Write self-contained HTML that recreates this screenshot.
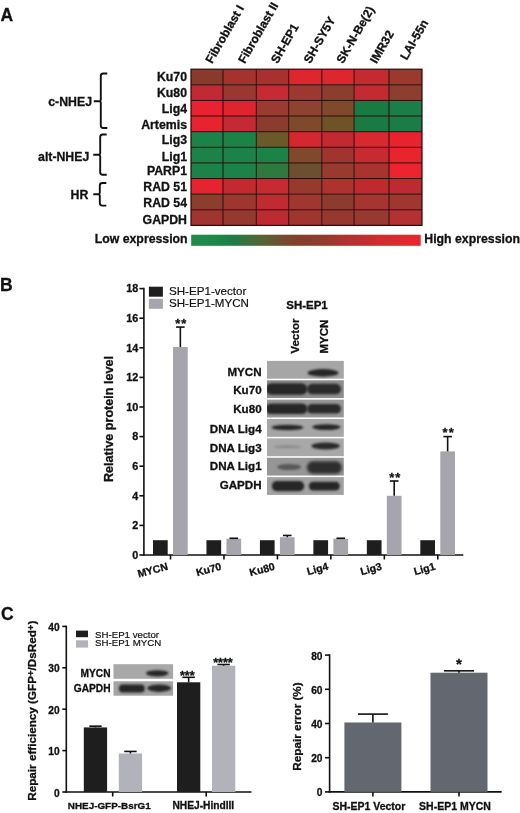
<!DOCTYPE html>
<html><head><meta charset="utf-8"><title>Figure</title>
<style>
html,body{margin:0;padding:0;background:#fff;width:520px;height:813px;overflow:hidden}
svg{display:block}
text{font-family:"Liberation Sans", Arial, sans-serif;fill:#111;stroke:#111;stroke-width:0.3px}
.pl{font-size:17.5px;font-weight:bold}
.b12{font-size:12.3px;font-weight:bold}
.b12c{font-size:12px;font-weight:bold}
.b125{font-size:12.5px;font-weight:bold}
.b11{font-size:11px;font-weight:bold}
.b115{font-size:11.5px;font-weight:bold}
.b117{font-size:11.7px;font-weight:bold}
.b126{font-size:12.6px;font-weight:bold}
.b118{font-size:11.6px;font-weight:bold}
.b10{font-size:10.2px;font-weight:bold}
.b105{font-size:10.5px;font-weight:bold}
.b108{font-size:10.8px;font-weight:bold}
.b95{font-size:9.6px;font-weight:bold}
.r115{font-size:11.6px;stroke-width:0.2px}
.r97{font-size:9.7px;stroke-width:0.2px}
.st{font-size:13px;font-weight:bold;letter-spacing:1px}
.stc{font-size:12.5px;font-weight:bold}
.st2{font-size:15px;font-weight:bold}
.gl{stroke:#2a0a0a;stroke-width:1}
.br{fill:none;stroke:#111;stroke-width:1.9}
.ax{stroke:#111;stroke-width:1.6}
.eb{stroke:#111;stroke-width:1.6}
</style></head><body>
<svg width="520" height="813" viewBox="0 0 520 813">
<defs><clipPath id="cpB"><rect x="267" y="360" width="76.8" height="136"/></clipPath><filter id="bl" x="-30%" y="-100%" width="160%" height="300%"><feGaussianBlur stdDeviation="0.9"/></filter><filter id="bl2" x="-30%" y="-100%" width="160%" height="300%"><feGaussianBlur stdDeviation="1.8"/></filter></defs>
<text x="0.5" y="20.8" class="pl">A</text>
<rect x="191" y="69.20" width="32.00" height="15.62" fill="#8a3a2c"/>
<rect x="223" y="69.20" width="33.30" height="15.62" fill="#a5322f"/>
<rect x="256.3" y="69.20" width="32.40" height="15.62" fill="#a8312f"/>
<rect x="288.7" y="69.20" width="33.10" height="15.62" fill="#de262f"/>
<rect x="321.8" y="69.20" width="32.30" height="15.62" fill="#de262f"/>
<rect x="354.1" y="69.20" width="34.90" height="15.62" fill="#c42a30"/>
<rect x="389" y="69.20" width="33.00" height="15.62" fill="#9a3a2e"/>
<rect x="191" y="84.82" width="32.00" height="15.62" fill="#c02a32"/>
<rect x="223" y="84.82" width="33.30" height="15.62" fill="#9a3830"/>
<rect x="256.3" y="84.82" width="32.40" height="15.62" fill="#c82a33"/>
<rect x="288.7" y="84.82" width="33.10" height="15.62" fill="#9c3830"/>
<rect x="321.8" y="84.82" width="32.30" height="15.62" fill="#8c3e2e"/>
<rect x="354.1" y="84.82" width="34.90" height="15.62" fill="#c42a32"/>
<rect x="389" y="84.82" width="33.00" height="15.62" fill="#8e3e2e"/>
<rect x="191" y="100.44" width="32.00" height="15.62" fill="#e8222f"/>
<rect x="223" y="100.44" width="33.30" height="15.62" fill="#e0242f"/>
<rect x="256.3" y="100.44" width="32.40" height="15.62" fill="#9a3a30"/>
<rect x="288.7" y="100.44" width="33.10" height="15.62" fill="#8e4230"/>
<rect x="321.8" y="100.44" width="32.30" height="15.62" fill="#7f4a2c"/>
<rect x="354.1" y="100.44" width="34.90" height="15.62" fill="#1a7a44"/>
<rect x="389" y="100.44" width="33.00" height="15.62" fill="#1a7e46"/>
<rect x="191" y="116.06" width="32.00" height="15.62" fill="#e6232f"/>
<rect x="223" y="116.06" width="33.30" height="15.62" fill="#c42a33"/>
<rect x="256.3" y="116.06" width="32.40" height="15.62" fill="#8c3c2e"/>
<rect x="288.7" y="116.06" width="33.10" height="15.62" fill="#7f4a2c"/>
<rect x="321.8" y="116.06" width="32.30" height="15.62" fill="#6e5228"/>
<rect x="354.1" y="116.06" width="34.90" height="15.62" fill="#1a7a44"/>
<rect x="389" y="116.06" width="33.00" height="15.62" fill="#1a7c46"/>
<rect x="191" y="131.68" width="32.00" height="15.62" fill="#1b8248"/>
<rect x="223" y="131.68" width="33.30" height="15.62" fill="#1b8248"/>
<rect x="256.3" y="131.68" width="32.40" height="15.62" fill="#6a5a2a"/>
<rect x="288.7" y="131.68" width="33.10" height="15.62" fill="#d42830"/>
<rect x="321.8" y="131.68" width="32.30" height="15.62" fill="#c02a30"/>
<rect x="354.1" y="131.68" width="34.90" height="15.62" fill="#d82830"/>
<rect x="389" y="131.68" width="33.00" height="15.62" fill="#e8222f"/>
<rect x="191" y="147.30" width="32.00" height="15.62" fill="#1b8248"/>
<rect x="223" y="147.30" width="33.30" height="15.62" fill="#1b8248"/>
<rect x="256.3" y="147.30" width="32.40" height="15.62" fill="#1b8248"/>
<rect x="288.7" y="147.30" width="33.10" height="15.62" fill="#7f4a2c"/>
<rect x="321.8" y="147.30" width="32.30" height="15.62" fill="#a03530"/>
<rect x="354.1" y="147.30" width="34.90" height="15.62" fill="#c82a32"/>
<rect x="389" y="147.30" width="33.00" height="15.62" fill="#e8242f"/>
<rect x="191" y="162.92" width="32.00" height="15.62" fill="#1b8248"/>
<rect x="223" y="162.92" width="33.30" height="15.62" fill="#1b8248"/>
<rect x="256.3" y="162.92" width="32.40" height="15.62" fill="#2f7840"/>
<rect x="288.7" y="162.92" width="33.10" height="15.62" fill="#6a5030"/>
<rect x="321.8" y="162.92" width="32.30" height="15.62" fill="#983a2e"/>
<rect x="354.1" y="162.92" width="34.90" height="15.62" fill="#a8342f"/>
<rect x="389" y="162.92" width="33.00" height="15.62" fill="#ec2430"/>
<rect x="191" y="178.54" width="32.00" height="15.62" fill="#e4242f"/>
<rect x="223" y="178.54" width="33.30" height="15.62" fill="#c22a30"/>
<rect x="256.3" y="178.54" width="32.40" height="15.62" fill="#c62a32"/>
<rect x="288.7" y="178.54" width="33.10" height="15.62" fill="#963a2e"/>
<rect x="321.8" y="178.54" width="32.30" height="15.62" fill="#ae322f"/>
<rect x="354.1" y="178.54" width="34.90" height="15.62" fill="#be2a30"/>
<rect x="389" y="178.54" width="33.00" height="15.62" fill="#be2a32"/>
<rect x="191" y="194.16" width="32.00" height="15.62" fill="#8c3e2e"/>
<rect x="223" y="194.16" width="33.30" height="15.62" fill="#9e3630"/>
<rect x="256.3" y="194.16" width="32.40" height="15.62" fill="#c22a32"/>
<rect x="288.7" y="194.16" width="33.10" height="15.62" fill="#a03630"/>
<rect x="321.8" y="194.16" width="32.30" height="15.62" fill="#8c3c2e"/>
<rect x="354.1" y="194.16" width="34.90" height="15.62" fill="#a63430"/>
<rect x="389" y="194.16" width="33.00" height="15.62" fill="#a03630"/>
<rect x="191" y="209.78" width="32.00" height="15.62" fill="#a23430"/>
<rect x="223" y="209.78" width="33.30" height="15.62" fill="#963830"/>
<rect x="256.3" y="209.78" width="32.40" height="15.62" fill="#be2a32"/>
<rect x="288.7" y="209.78" width="33.10" height="15.62" fill="#a23430"/>
<rect x="321.8" y="209.78" width="32.30" height="15.62" fill="#963830"/>
<rect x="354.1" y="209.78" width="34.90" height="15.62" fill="#983830"/>
<rect x="389" y="209.78" width="33.00" height="15.62" fill="#b43032"/>
<line x1="191" y1="84.82" x2="422" y2="84.82" class="gl"/>
<line x1="191" y1="100.44" x2="422" y2="100.44" class="gl"/>
<line x1="191" y1="116.06" x2="422" y2="116.06" class="gl"/>
<line x1="191" y1="131.68" x2="422" y2="131.68" class="gl"/>
<line x1="191" y1="147.30" x2="422" y2="147.30" class="gl"/>
<line x1="191" y1="162.92" x2="422" y2="162.92" class="gl"/>
<line x1="191" y1="178.54" x2="422" y2="178.54" class="gl"/>
<line x1="191" y1="194.16" x2="422" y2="194.16" class="gl"/>
<line x1="191" y1="209.78" x2="422" y2="209.78" class="gl"/>
<line x1="223" y1="69.2" x2="223" y2="225.4" class="gl"/>
<line x1="256.3" y1="69.2" x2="256.3" y2="225.4" class="gl"/>
<line x1="288.7" y1="69.2" x2="288.7" y2="225.4" class="gl"/>
<line x1="321.8" y1="69.2" x2="321.8" y2="225.4" class="gl"/>
<line x1="354.1" y1="69.2" x2="354.1" y2="225.4" class="gl"/>
<line x1="389" y1="69.2" x2="389" y2="225.4" class="gl"/>
<rect x="191" y="69.2" width="231" height="156.2" fill="none" stroke="#2a0808" stroke-width="1.2"/>
<text x="187" y="81.3" class="b12" text-anchor="end">Ku70</text>
<text x="187" y="96.5" class="b12" text-anchor="end">Ku80</text>
<text x="187" y="112.9" class="b12" text-anchor="end">Lig4</text>
<text x="187" y="128.7" class="b12" text-anchor="end">Artemis</text>
<text x="187" y="143.8" class="b12" text-anchor="end">Lig3</text>
<text x="187" y="160.6" class="b12" text-anchor="end">Lig1</text>
<text x="187" y="175.4" class="b12" text-anchor="end">PARP1</text>
<text x="187" y="191" class="b12" text-anchor="end">RAD 51</text>
<text x="187" y="207" class="b12" text-anchor="end">RAD 54</text>
<text x="187" y="223.8" class="b12" text-anchor="end">GAPDH</text>
<text transform="translate(212.0,64.2) rotate(-60)" class="b12c">Fibroblast I</text>
<text transform="translate(244.7,64.2) rotate(-60)" class="b12c">Fibroblast II</text>
<text transform="translate(277.5,64.2) rotate(-60)" class="b12c">SH-EP1</text>
<text transform="translate(310.2,64.2) rotate(-60)" class="b12c">SH-SY5Y</text>
<text transform="translate(343.0,64.2) rotate(-60)" class="b12c">SK-N-Be(2)</text>
<text transform="translate(376.6,64.2) rotate(-60)" class="b12c">IMR32</text>
<text transform="translate(406.7,60.8) rotate(-60)" class="b12c">LAI-55n</text>
<path d="M107.3,73.5 H103.3 Q100.8,73.5 100.8,76.0 V99.7 Q100.8,101.2 99.3,101.2 H93.8 M99.3,101.2 Q100.8,101.2 100.8,102.7 V125.5 Q100.8,128 103.3,128 H107.3" class="br"/>
<path d="M106.7,134.5 H102.7 Q100.2,134.5 100.2,137.0 V153.3 Q100.2,154.8 98.7,154.8 H93.2 M98.7,154.8 Q100.2,154.8 100.2,156.3 V172.3 Q100.2,174.8 102.7,174.8 H106.7" class="br"/>
<path d="M106.3,183 H102.3 Q99.8,183 99.8,185.5 V192.7 Q99.8,194.2 98.3,194.2 H93.3 M98.3,194.2 Q99.8,194.2 99.8,195.7 V203.1 Q99.8,205.6 102.3,205.6 H106.3" class="br"/>
<text x="92" y="106.2" class="b12" text-anchor="end">c-NHEJ</text>
<text x="89.3" y="160.8" class="b12" text-anchor="end">alt-NHEJ</text>
<text x="88.3" y="198.8" class="b12" text-anchor="end">HR</text>
<defs><linearGradient id="cb" x1="0" x2="1" y1="0" y2="0"><stop offset="0.036" stop-color="#1f8a4a"/><stop offset="0.107" stop-color="#1e8848"/><stop offset="0.179" stop-color="#1c7e46"/><stop offset="0.250" stop-color="#3e6e3c"/><stop offset="0.321" stop-color="#5a6234"/><stop offset="0.393" stop-color="#704e2e"/><stop offset="0.464" stop-color="#843f2c"/><stop offset="0.536" stop-color="#8a3e2e"/><stop offset="0.607" stop-color="#983a2e"/><stop offset="0.679" stop-color="#b03230"/><stop offset="0.750" stop-color="#c42c30"/><stop offset="0.821" stop-color="#d42a30"/><stop offset="0.893" stop-color="#e0282f"/><stop offset="0.964" stop-color="#e8242f"/></linearGradient></defs>
<rect x="191.2" y="234.7" width="229.5" height="11.1" fill="url(#cb)"/>
<text x="94.7" y="243" class="b12">Low expression</text>
<text x="424.3" y="243" class="b12">High expression</text>
<text x="0" y="290.8" class="pl">B</text>
<line x1="143.9" y1="287.84999999999997" x2="143.9" y2="555.75" class="ax"/>
<line x1="143.15" y1="555.0" x2="463.3" y2="555.0" class="ax"/>
<line x1="139.4" y1="555.00" x2="143.9" y2="555.00" class="ax"/>
<text x="138.2" y="558.80" class="b108" text-anchor="end">0</text>
<line x1="139.4" y1="525.40" x2="143.9" y2="525.40" class="ax"/>
<text x="138.2" y="529.20" class="b108" text-anchor="end">2</text>
<line x1="139.4" y1="495.80" x2="143.9" y2="495.80" class="ax"/>
<text x="138.2" y="499.60" class="b108" text-anchor="end">4</text>
<line x1="139.4" y1="466.20" x2="143.9" y2="466.20" class="ax"/>
<text x="138.2" y="470.00" class="b108" text-anchor="end">6</text>
<line x1="139.4" y1="436.60" x2="143.9" y2="436.60" class="ax"/>
<text x="138.2" y="440.40" class="b108" text-anchor="end">8</text>
<line x1="139.4" y1="407.00" x2="143.9" y2="407.00" class="ax"/>
<text x="138.2" y="410.80" class="b108" text-anchor="end">10</text>
<line x1="139.4" y1="377.40" x2="143.9" y2="377.40" class="ax"/>
<text x="138.2" y="381.20" class="b108" text-anchor="end">12</text>
<line x1="139.4" y1="347.80" x2="143.9" y2="347.80" class="ax"/>
<text x="138.2" y="351.60" class="b108" text-anchor="end">14</text>
<line x1="139.4" y1="318.20" x2="143.9" y2="318.20" class="ax"/>
<text x="138.2" y="322.00" class="b108" text-anchor="end">16</text>
<line x1="139.4" y1="288.60" x2="143.9" y2="288.60" class="ax"/>
<text x="138.2" y="292.40" class="b108" text-anchor="end">18</text>
<text transform="translate(112.8,419) rotate(-90)" class="b126" text-anchor="middle">Relative protein level</text>
<rect x="153.00" y="540.20" width="14.7" height="14.80" fill="#1e1e1e"/>
<rect x="173.00" y="347.06" width="14.7" height="207.94" fill="#a6a5ae"/>
<line x1="180.35" y1="347.06" x2="180.35" y2="327.08" class="eb"/>
<line x1="176.05" y1="327.08" x2="184.65" y2="327.08" class="eb"/>
<line x1="170.50" y1="555.0" x2="170.50" y2="559.5" class="ax"/>
<text transform="translate(168.50,569.6) rotate(-15)" class="b105" text-anchor="end">MYCN</text>
<text x="181.35" y="327.58" class="st" text-anchor="middle">**</text>
<rect x="206.46" y="540.20" width="14.7" height="14.80" fill="#1e1e1e"/>
<rect x="226.46" y="538.72" width="14.7" height="16.28" fill="#a6a5ae"/>
<line x1="233.81" y1="538.72" x2="233.81" y2="538.28" class="eb"/>
<line x1="229.51" y1="538.28" x2="238.11" y2="538.28" class="eb"/>
<line x1="223.96" y1="555.0" x2="223.96" y2="559.5" class="ax"/>
<text transform="translate(221.96,569.6) rotate(-15)" class="b105" text-anchor="end">Ku70</text>
<rect x="259.92" y="540.20" width="14.7" height="14.80" fill="#1e1e1e"/>
<rect x="279.92" y="537.24" width="14.7" height="17.76" fill="#a6a5ae"/>
<line x1="287.27" y1="537.24" x2="287.27" y2="535.46" class="eb"/>
<line x1="282.97" y1="535.46" x2="291.57" y2="535.46" class="eb"/>
<line x1="277.42" y1="555.0" x2="277.42" y2="559.5" class="ax"/>
<text transform="translate(275.42,569.6) rotate(-15)" class="b105" text-anchor="end">Ku80</text>
<rect x="313.38" y="540.20" width="14.7" height="14.80" fill="#1e1e1e"/>
<rect x="333.38" y="538.72" width="14.7" height="16.28" fill="#a6a5ae"/>
<line x1="340.73" y1="538.72" x2="340.73" y2="538.28" class="eb"/>
<line x1="336.43" y1="538.28" x2="345.03" y2="538.28" class="eb"/>
<line x1="330.88" y1="555.0" x2="330.88" y2="559.5" class="ax"/>
<text transform="translate(328.88,569.6) rotate(-15)" class="b105" text-anchor="end">Lig4</text>
<rect x="366.84" y="540.20" width="14.7" height="14.80" fill="#1e1e1e"/>
<rect x="386.84" y="495.80" width="14.7" height="59.20" fill="#a6a5ae"/>
<line x1="394.19" y1="495.80" x2="394.19" y2="481.00" class="eb"/>
<line x1="389.89" y1="481.00" x2="398.49" y2="481.00" class="eb"/>
<line x1="384.34" y1="555.0" x2="384.34" y2="559.5" class="ax"/>
<text transform="translate(382.34,569.6) rotate(-15)" class="b105" text-anchor="end">Lig3</text>
<text x="395.19" y="481.50" class="st" text-anchor="middle">**</text>
<rect x="420.30" y="540.20" width="14.7" height="14.80" fill="#1e1e1e"/>
<rect x="440.30" y="451.40" width="14.7" height="103.60" fill="#a6a5ae"/>
<line x1="447.65" y1="451.40" x2="447.65" y2="436.60" class="eb"/>
<line x1="443.35" y1="436.60" x2="451.95" y2="436.60" class="eb"/>
<line x1="437.80" y1="555.0" x2="437.80" y2="559.5" class="ax"/>
<text transform="translate(435.80,569.6) rotate(-15)" class="b105" text-anchor="end">Lig1</text>
<text x="448.65" y="437.10" class="st" text-anchor="middle">**</text>
<rect x="148.9" y="286.7" width="14" height="10" fill="#1e1e1e"/>
<rect x="148.9" y="298.8" width="14" height="10" fill="#a6a5ae"/>
<text x="169" y="294.8" class="r115">SH-EP1-vector</text>
<text x="169" y="306.9" class="r115">SH-EP1-MYCN</text>
<text x="307" y="309.4" class="b115" text-anchor="middle">SH-EP1</text>
<text transform="translate(299.2,353.6) rotate(-90)" class="b115">Vector</text>
<text transform="translate(327.9,353.6) rotate(-90)" class="b115">MYCN</text>
<rect x="267" y="360.90" width="76.8" height="17.8" fill="#a6a6a6"/>
<text x="261.6" y="376.3" class="b118" text-anchor="end">MYCN</text>
<rect x="267" y="380.27" width="76.8" height="17.8" fill="#8e8e8e"/>
<text x="261.6" y="394.4" class="b118" text-anchor="end">Ku70</text>
<rect x="267" y="399.64" width="76.8" height="17.8" fill="#979797"/>
<text x="261.6" y="413.3" class="b118" text-anchor="end">Ku80</text>
<rect x="267" y="419.01" width="76.8" height="17.8" fill="#a6a6a6"/>
<text x="261.6" y="432.6" class="b118" text-anchor="end">DNA Lig4</text>
<rect x="267" y="438.38" width="76.8" height="17.8" fill="#a8a8a8"/>
<text x="261.6" y="451.7" class="b118" text-anchor="end">DNA Lig3</text>
<rect x="267" y="457.75" width="76.8" height="17.8" fill="#969696"/>
<text x="261.6" y="470.3" class="b118" text-anchor="end">DNA Lig1</text>
<rect x="267" y="477.12" width="76.8" height="17.8" fill="#a2a2a2"/>
<text x="261.6" y="488.5" class="b118" text-anchor="end">GAPDH</text>
<g clip-path="url(#cpB)">
<ellipse cx="323.00" cy="372.90" rx="15.50" ry="3.81" fill="#262626" filter="url(#bl)"/>
<rect x="265.50" y="383.25" width="42.00" height="11.50" rx="5.75" fill="#282828" filter="url(#bl)"/>
<rect x="307.00" y="383.75" width="34.00" height="10.50" rx="5.25" fill="#2a2a2a" filter="url(#bl)"/>
<rect x="265.50" y="403.55" width="42.00" height="10.50" rx="5.25" fill="#282828" filter="url(#bl)"/>
<rect x="307.00" y="404.05" width="34.00" height="9.50" rx="4.75" fill="#2a2a2a" filter="url(#bl)"/>
<ellipse cx="287.50" cy="427.50" rx="16.00" ry="2.80" fill="#262626" filter="url(#bl)"/>
<ellipse cx="326.40" cy="427.10" rx="14.25" ry="2.91" fill="#262626" filter="url(#bl)"/>
<ellipse cx="287.60" cy="446.80" rx="14.00" ry="1.57" fill="#8a8a8a" filter="url(#bl)"/>
<ellipse cx="325.60" cy="446.00" rx="14.25" ry="3.47" fill="#2a2a2a" filter="url(#bl)"/>
<ellipse cx="289.20" cy="467.00" rx="12.00" ry="3.02" fill="#585858" filter="url(#bl)"/>
<rect x="306.90" y="461.25" width="35.00" height="12.50" rx="6.25" fill="#2e2e2e" filter="url(#bl2)"/>
<rect x="271.75" y="481.00" width="32.50" height="10.20" rx="5.10" fill="#262626" filter="url(#bl)"/>
<rect x="308.80" y="481.80" width="31.00" height="8.60" rx="4.30" fill="#262626" filter="url(#bl)"/>
</g>
<text x="1" y="619.5" class="pl">C</text>
<line x1="66.3" y1="625.65" x2="66.3" y2="792.75" class="ax"/>
<line x1="65.55" y1="792.0" x2="251.5" y2="792.0" class="ax"/>
<line x1="62.3" y1="792.00" x2="66.3" y2="792.00" class="ax"/>
<text x="59.6" y="796.60" class="b10" text-anchor="end">0</text>
<line x1="62.3" y1="750.60" x2="66.3" y2="750.60" class="ax"/>
<text x="59.6" y="755.20" class="b10" text-anchor="end">10</text>
<line x1="62.3" y1="709.20" x2="66.3" y2="709.20" class="ax"/>
<text x="59.6" y="713.80" class="b10" text-anchor="end">20</text>
<line x1="62.3" y1="667.80" x2="66.3" y2="667.80" class="ax"/>
<text x="59.6" y="672.40" class="b10" text-anchor="end">30</text>
<line x1="62.3" y1="626.40" x2="66.3" y2="626.40" class="ax"/>
<text x="59.6" y="631.00" class="b10" text-anchor="end">40</text>
<text transform="translate(36,710.7) rotate(-90)" class="b117" text-anchor="middle">Repair efficiency (GFP<tspan dy="-2.4" font-size="9.5">+</tspan><tspan dy="2.4">/DsRed</tspan><tspan dy="-2.4" font-size="9.5">+</tspan><tspan dy="2.4">)</tspan></text>
<rect x="83.8" y="727.42" width="23.3" height="64.58" fill="#1e1e1e"/>
<line x1="95.45" y1="727.42" x2="95.45" y2="726.17" class="eb"/>
<line x1="89.25" y1="726.17" x2="101.65" y2="726.17" class="eb"/>
<rect x="118.8" y="753.50" width="23.3" height="38.50" fill="#b2b2ba"/>
<line x1="130.45" y1="753.50" x2="130.45" y2="751.43" class="eb"/>
<line x1="124.25" y1="751.43" x2="136.65" y2="751.43" class="eb"/>
<rect x="177" y="682.29" width="23.3" height="109.71" fill="#1e1e1e"/>
<line x1="188.65" y1="682.29" x2="188.65" y2="677.32" class="eb"/>
<line x1="182.45" y1="677.32" x2="194.85" y2="677.32" class="eb"/>
<rect x="212" y="665.73" width="23.3" height="126.27" fill="#b2b2ba"/>
<line x1="223.65" y1="665.73" x2="223.65" y2="664.49" class="eb"/>
<line x1="217.45" y1="664.49" x2="229.85" y2="664.49" class="eb"/>
<text x="187.3" y="679.82" class="stc" text-anchor="middle">***</text>
<text x="222.9" y="666.69" class="stc" text-anchor="middle">****</text>
<line x1="112.7" y1="792.0" x2="112.7" y2="796.5" class="ax"/>
<line x1="206.2" y1="792.0" x2="206.2" y2="796.5" class="ax"/>
<text x="67.8" y="808.8" class="b10" style="font-size:9.9px">NHEJ-GFP-BsrG1</text>
<text x="172.5" y="808.6" class="b10">NHEJ-HindIII</text>
<rect x="76" y="630.6" width="12" height="6.6" fill="#1e1e1e"/>
<rect x="76" y="640.3" width="12" height="7.3" fill="#b2b2ba"/>
<text x="95" y="637.5" class="r97">SH-EP1 vector</text>
<text x="95" y="646.3" class="r97">SH-EP1 MYCN</text>
<rect x="113.5" y="664.2" width="59.6" height="14.6" fill="#a8a8a8"/>
<rect x="113.5" y="681.3" width="59.6" height="14.4" fill="#a4a4a4"/>
<text x="110.5" y="676.6" class="b10" text-anchor="end">MYCN</text>
<text x="110.5" y="692" class="b10" text-anchor="end">GAPDH</text>
<ellipse cx="157.20" cy="673.30" rx="11.25" ry="3.14" fill="#262626" filter="url(#bl)"/>
<rect x="118.80" y="684.50" width="26.00" height="8.00" rx="4.00" fill="#262626" filter="url(#bl)"/>
<ellipse cx="159.10" cy="688.20" rx="12.00" ry="3.70" fill="#262626" filter="url(#bl)"/>
<line x1="329.6" y1="654.3499999999999" x2="329.6" y2="792.65" class="ax"/>
<line x1="328.85" y1="791.9" x2="501.7" y2="791.9" class="ax"/>
<line x1="325.0" y1="791.90" x2="329.6" y2="791.90" class="ax"/>
<text x="322.5" y="796.40" class="b10" text-anchor="end">0</text>
<line x1="325.0" y1="757.70" x2="329.6" y2="757.70" class="ax"/>
<text x="322.5" y="762.20" class="b10" text-anchor="end">20</text>
<line x1="325.0" y1="723.50" x2="329.6" y2="723.50" class="ax"/>
<text x="322.5" y="728.00" class="b10" text-anchor="end">40</text>
<line x1="325.0" y1="689.30" x2="329.6" y2="689.30" class="ax"/>
<text x="322.5" y="693.80" class="b10" text-anchor="end">60</text>
<line x1="325.0" y1="655.10" x2="329.6" y2="655.10" class="ax"/>
<text x="322.5" y="659.60" class="b10" text-anchor="end">80</text>
<text transform="translate(301,726.5) rotate(-90)" class="b117" text-anchor="middle">Repair error (%)</text>
<rect x="344.4" y="722.47" width="57" height="69.43" fill="#63676f"/>
<line x1="372.90" y1="722.47" x2="372.90" y2="714.10" class="eb"/>
<line x1="357.90" y1="714.10" x2="387.90" y2="714.10" class="eb"/>
<line x1="372.90" y1="791.9" x2="372.90" y2="796.4" class="ax"/>
<text x="368.90" y="809.8" class="b105" text-anchor="middle">SH-EP1 Vector</text>
<rect x="430.5" y="672.71" width="57" height="119.19" fill="#63676f"/>
<line x1="459.00" y1="672.71" x2="459.00" y2="670.83" class="eb"/>
<line x1="444.00" y1="670.83" x2="474.00" y2="670.83" class="eb"/>
<line x1="459.00" y1="791.9" x2="459.00" y2="796.4" class="ax"/>
<text x="455.00" y="809.8" class="b105" text-anchor="middle">SH-EP1 MYCN</text>
<text x="459" y="669" class="st2" text-anchor="middle">*</text>
</svg>
</body></html>
